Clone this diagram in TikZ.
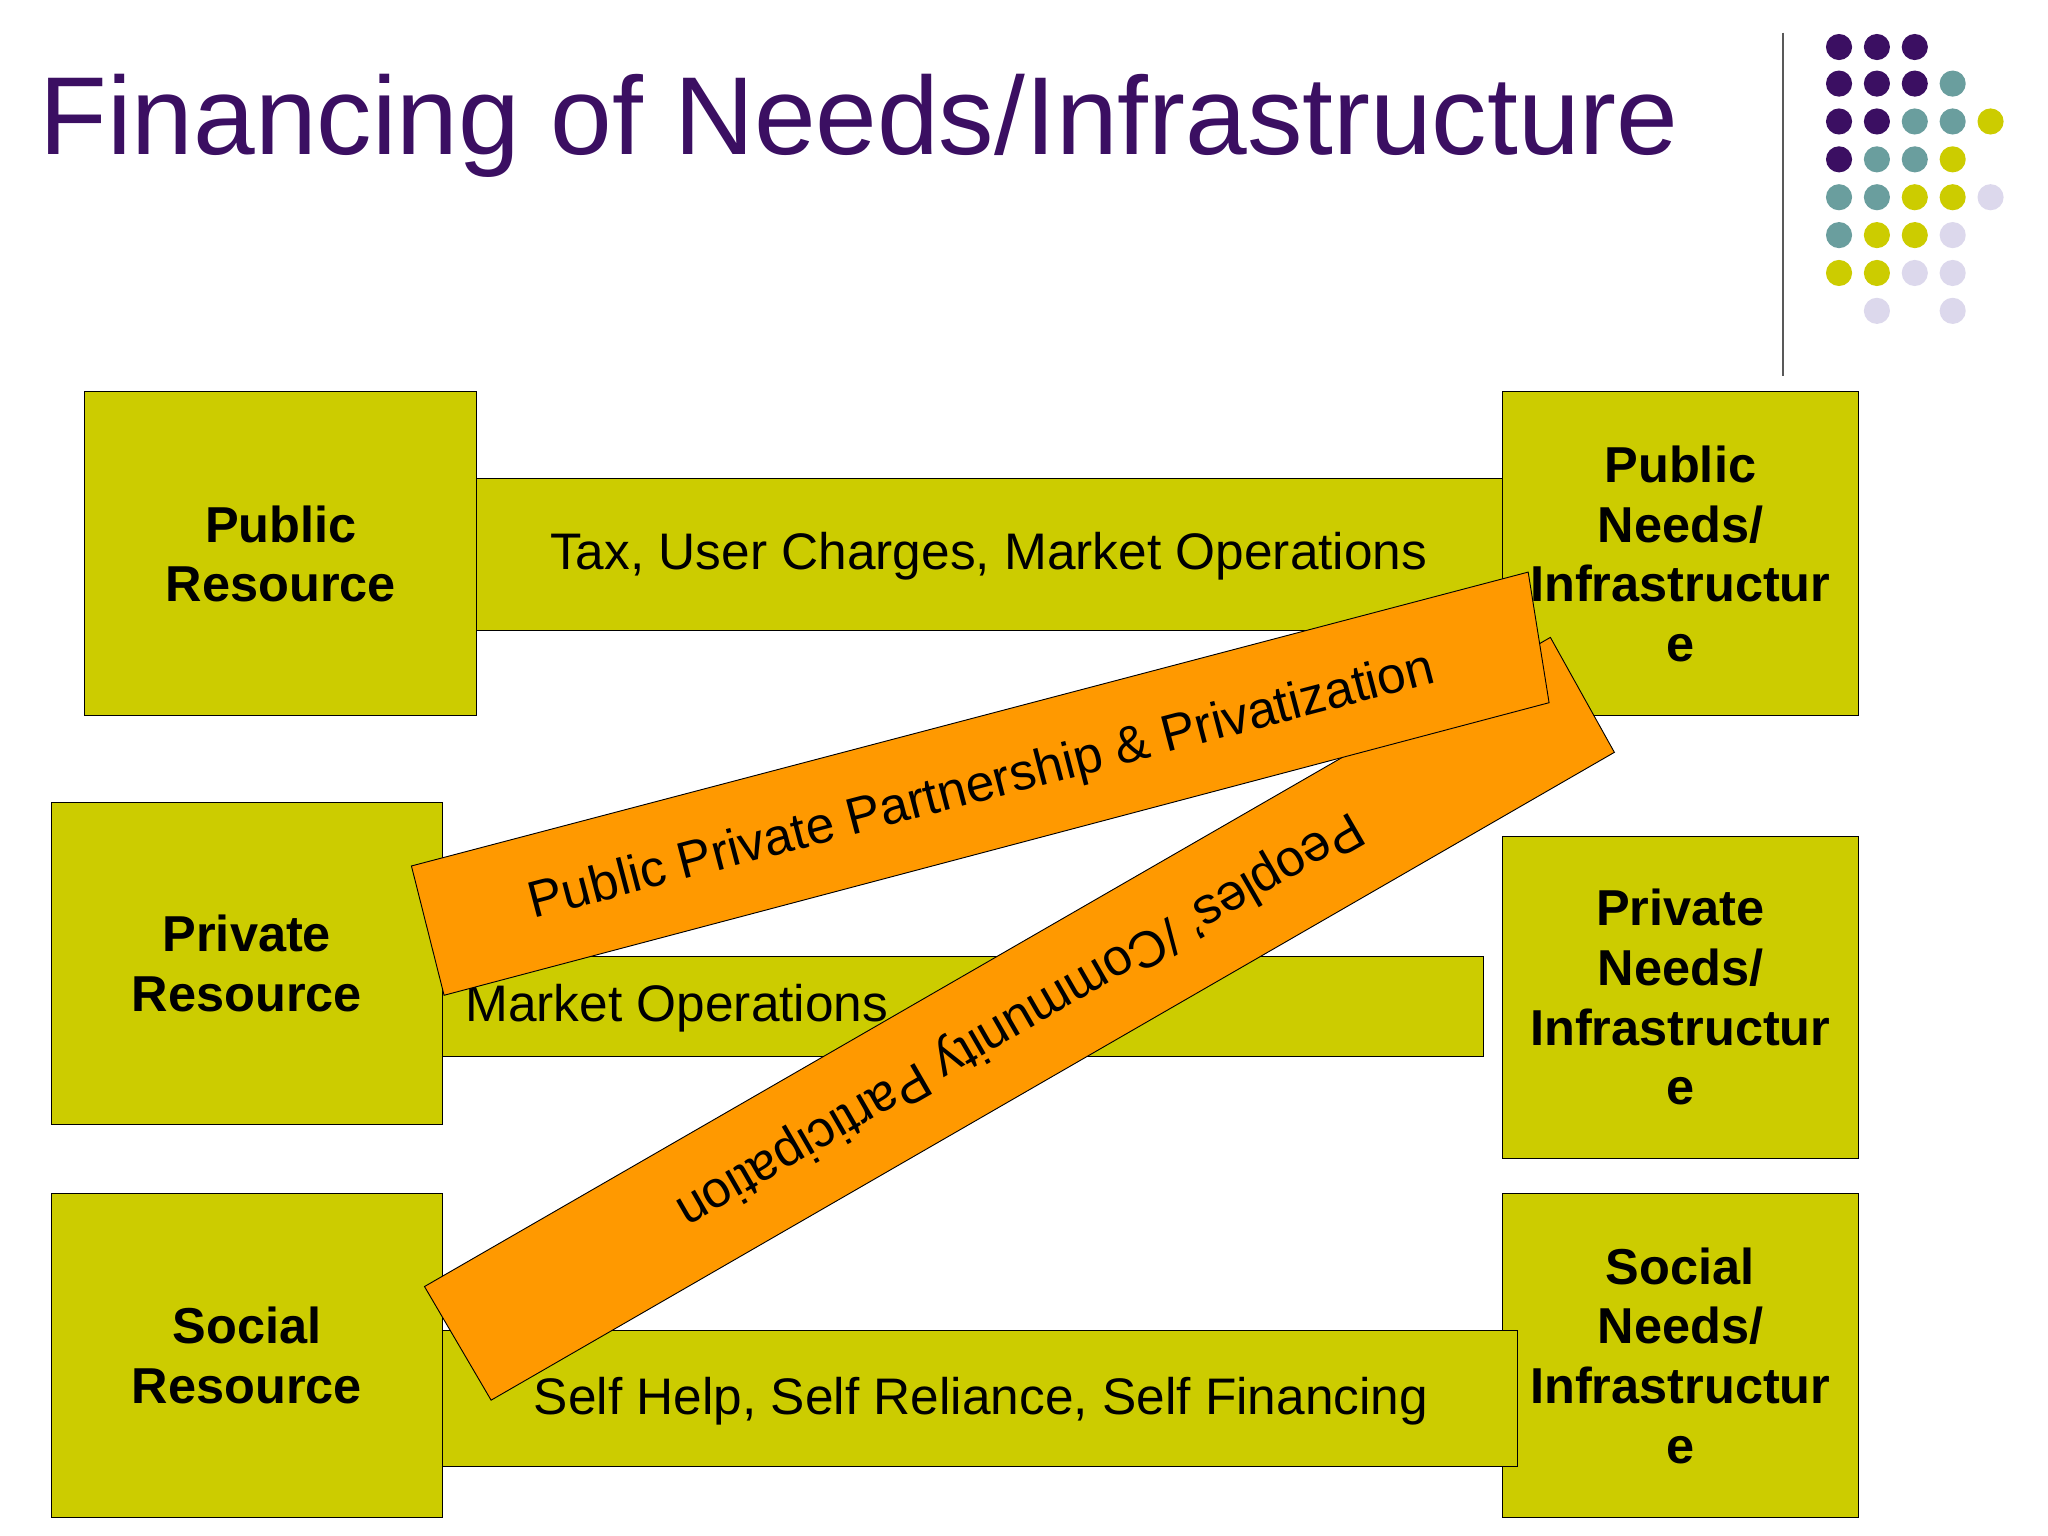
\documentclass[tikz,border=0pt]{standalone}
\usepackage{fontspec}
\setmainfont{Liberation Sans}
\definecolor{olv}{HTML}{CCCC00}
\definecolor{org}{HTML}{FF9900}
\definecolor{pur}{HTML}{3B0F62}
\definecolor{tea}{HTML}{6A9E9E}
\definecolor{lav}{HTML}{DCD8EC}
\begin{document}
\begin{tikzpicture}[x=0.02cm,y=-0.02cm,
  box/.style={draw=black,fill=olv,font=\fontsize{22}{26}\selectfont\bfseries,align=center,inner sep=0},
  bar/.style={draw=black,fill=olv},
  lbl/.style={font=\fontsize{22.4}{26}\selectfont},
  dot/.style={circle,inner sep=0,minimum size=0.4cm}]
\useasboundingbox (0,0) rectangle (1568,1176);
\fill[white] (0,0) rectangle (1568,1176);
\node[anchor=base west,text=pur,font=\fontsize{48.3}{58}\selectfont,inner sep=0] (title) at (30,118) {Financing of Needs/Infrastructure};
\draw[gray!70!black,line width=0.8pt] (1365,25) -- (1365,288);
\foreach \r/\cols in {36/{pur,pur,pur,,},64/{pur,pur,pur,tea,},93/{pur,pur,tea,tea,olv},122/{pur,tea,tea,olv,},151/{tea,tea,olv,olv,lav},180/{tea,olv,olv,lav,},209/{olv,olv,lav,lav,},238/{,lav,,lav,}}{
  \foreach \c [count=\i from 0] in \cols {
    \ifx\c\empty\else\node[dot,fill=\c] at (1408+29*\i,\r) {};\fi
  }
}
% boxes
\node[box,minimum width=6cm,minimum height=4.96cm] (pubr) at (215,424) {Public\\Resource};
\node[box,minimum width=6cm,minimum height=4.94cm] (prir) at (189,737.5) {Private\\Resource};
\node[box,minimum width=6cm,minimum height=4.96cm] (socr) at (189,1038) {Social\\Resource};
\node[box,minimum width=5.46cm,minimum height=4.96cm] (pubn) at (1286.5,424) {Public\\Needs/\\Infrastructur\\e};
\node[box,minimum width=5.46cm,minimum height=4.94cm] (prin) at (1286.5,763.5) {Private\\Needs/\\Infrastructur\\e};
\node[box,minimum width=5.46cm,minimum height=4.96cm] (socn) at (1286.5,1038) {Social\\Needs/\\Infrastructur\\e};
% bars
\draw[bar] (365,366) rectangle (1150,483);
\node[lbl] (t1) at (757,426) {Tax, User Charges, Market Operations};
\draw[bar] (339,732) rectangle (1136,809);
\node[lbl,anchor=west,inner sep=0] (t2) at (356,772) {Market Operations};
\draw[bar] (339,1019) rectangle (1162,1123);
\node[lbl] (t3) at (751,1073) {Self Help, Self Reliance, Self Financing};
% orange
\draw[fill=org] (325,985) -- (1187,488) -- (1236,576) -- (376,1072) -- cycle;
\node[lbl,rotate=210] (cp) at (780,780) {Peoples' /Community Participation};
\draw[fill=org] (315,663) -- (1170,438) -- (1186,538) -- (340,762) -- cycle;
\node[lbl,rotate=14.7] (ppp) at (752,603) {Public Private Partnership \& Privatization};
\end{tikzpicture}
\end{document}
